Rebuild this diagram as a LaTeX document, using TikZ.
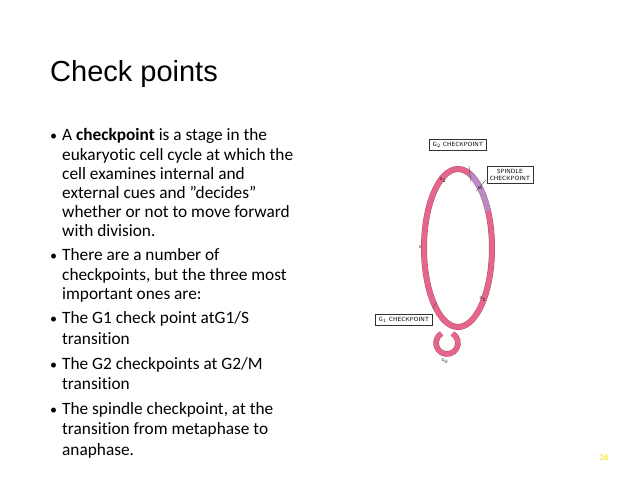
\documentclass[tikz,border=0pt]{standalone}
\usepackage{fontspec}
\setmainfont{Carlito}[Ligatures={NoCommon,NoRare}]
\newfontfamily\titlefont{Liberation Sans}
\begin{document}
\begin{tikzpicture}[x=1pt,y=-1pt,
  line/.style={anchor=base west,inner sep=0pt,font=\fontsize{17.3}{19}\selectfont},
  bul/.style={anchor=base west,inner sep=0pt,font=\fontsize{14}{16}\selectfont},
  cpbox/.style={draw=black!80,fill=white,line width=0.6pt,font=\sffamily\fontsize{6}{7}\selectfont,align=center,inner sep=3pt},
  tiny/.style={font=\sffamily\fontsize{4}{4}\selectfont,inner sep=0pt}]
\useasboundingbox (0,0) rectangle (638,478);
\fill[white] (0,0) rectangle (638,478);
\node[anchor=base west,inner sep=0pt,font=\titlefont\fontsize{29}{32}\selectfont] (title) at (50,82) {Check points};
\foreach \y in {141,261,324,370,415} \node[bul] at (50,\y) {•};
\node[line] (l1) at (62,141) {A \textbf{checkpoint} is a stage in the};
\node[line] (l2) at (62,161) {eukaryotic cell cycle at which the};
\node[line] (l3) at (62,180) {cell examines internal and};
\node[line] (l4) at (62,199) {external cues and {\char"22}decides{\char"22}};
\node[line] (l5) at (62,218) {whether or not to move forward};
\node[line] (l6) at (62,237) {with division.};
\node[line] (l7) at (62,261) {There are a number of};
\node[line] (l8) at (62,281) {checkpoints, but the three most};
\node[line] (l9) at (62,300) {important ones are:};
\node[line] (l10) at (62,324) {The G1 check point atG1/S};
\node[line] (l11) at (62,345) {transition};
\node[line] (l12) at (62,370) {The G2 checkpoints at G2/M};
\node[line] (l13) at (62,390) {transition};
\node[line] (l14) at (62,415) {The spindle checkpoint, at the};
\node[line] (l15) at (62,435) {transition from metaphase to};
\node[line] (l16) at (62,456) {anaphase.};
\node[anchor=base,inner sep=0pt,text=yellow!80!orange,font=\fontsize{9}{10}\selectfont] (pg) at (604,461) {36};
% cell cycle ring
\definecolor{ringpink}{HTML}{E5668A}
\definecolor{ringpurple}{HTML}{B78BC8}
\draw[ringpink!80!black,line width=5.6pt] (452.5,333.5) arc (-60:240:11);
\draw[ringpink,line width=4.6pt] (452.5,333.5) arc (-60:240:11);
\draw[ringpink!80!black,line width=6pt] (458,248) ellipse (34 and 79);
\draw[ringpink,line width=5pt] (458,248) ellipse (34 and 79);
\draw[ringpurple,line width=5pt] (458,248) ++(-70:34 and 79) arc (-70:-28:34 and 79);
\draw[black!70,line width=0.4pt] (469,166) -- (471,182);
\draw[black!70,line width=0.4pt] (476,191) -- (486,180);
\draw[black!70,line width=0.4pt] (433,308) -- (437,302);
\node[tiny] at (443,180) {G$_2$};
\node[tiny] at (480,188) {M};
\node[tiny] at (420,247) {S};
\node[tiny] at (483,299) {G$_1$};
\node[tiny] at (445,361) {G$_0$};
\node[cpbox] (g2) at (458,145) {G$_2$ CHECKPOINT};
\node[cpbox] (sp) at (510,175) {SPINDLE\\CHECKPOINT};
\node[cpbox] (g1) at (404,320) {G$_1$ CHECKPOINT};
\end{tikzpicture}
\end{document}
